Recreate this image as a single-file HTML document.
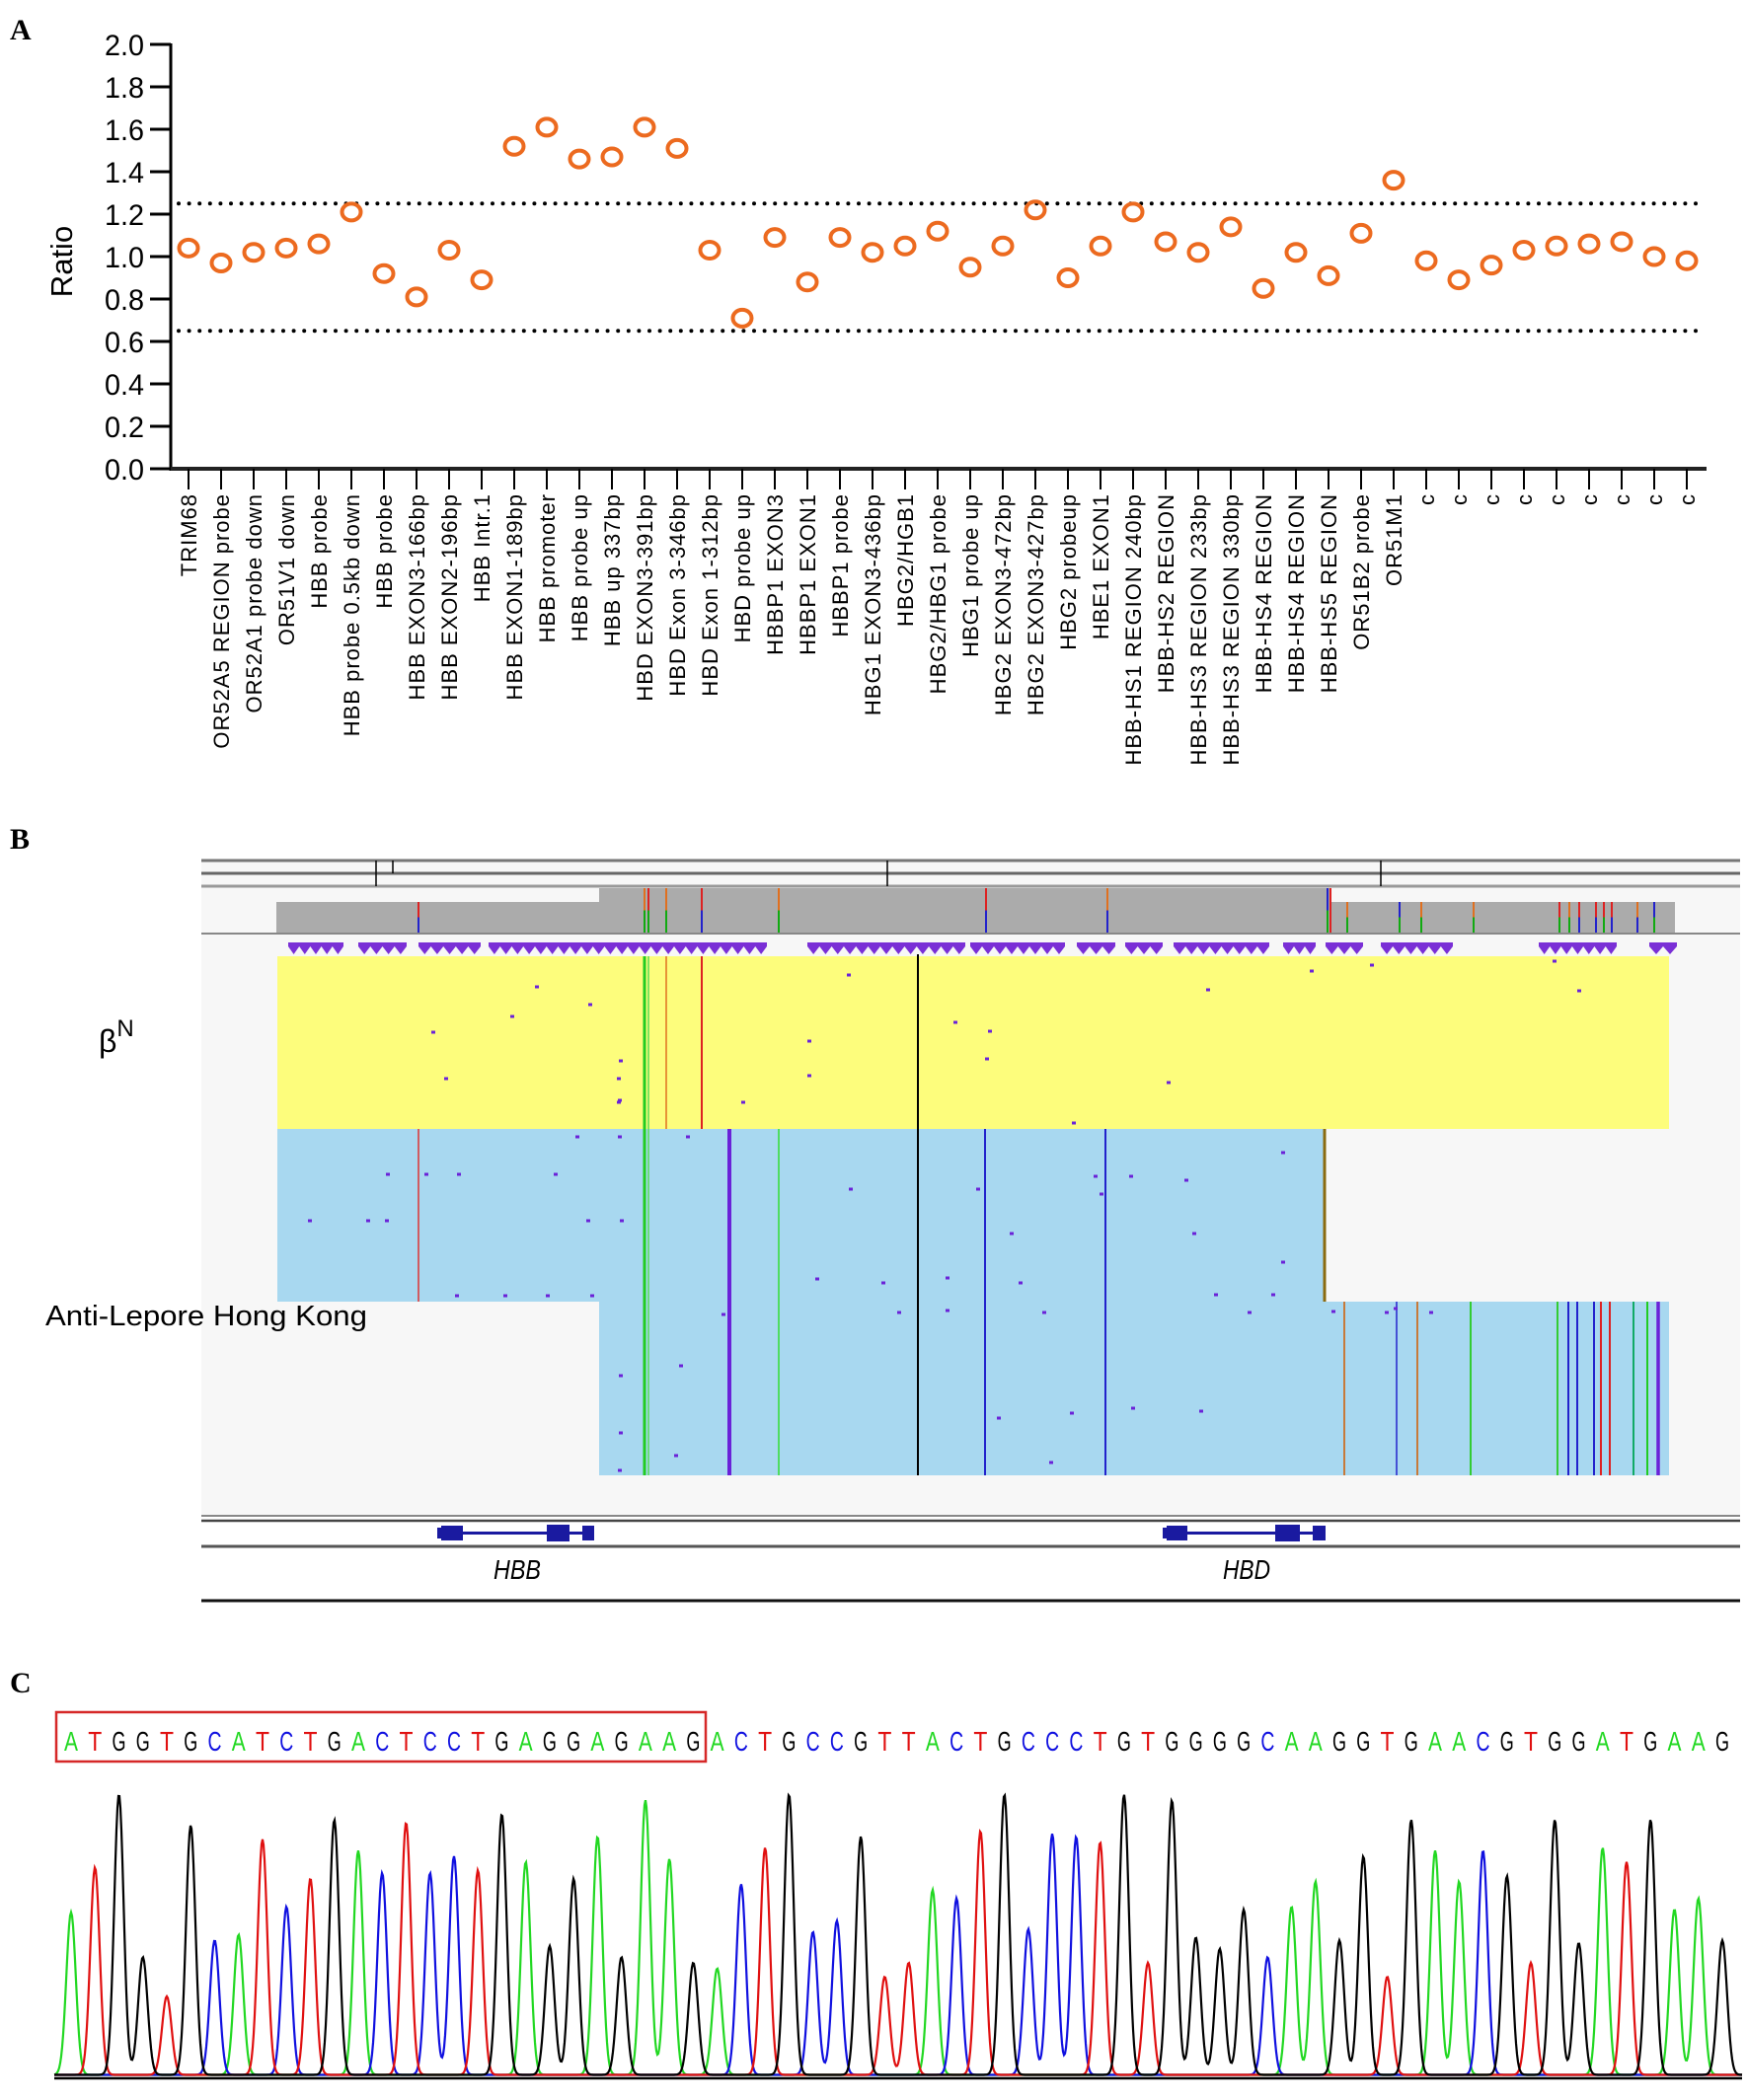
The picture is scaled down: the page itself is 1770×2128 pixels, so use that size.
<!DOCTYPE html>
<html><head><meta charset="utf-8"><style>
html,body{margin:0;padding:0;background:#fff;}
svg{display:block;font-family:"Liberation Sans",sans-serif;}
</style></head><body>
<svg id="fig" width="1770" height="2128" viewBox="0 0 1770 2128" xmlns="http://www.w3.org/2000/svg">
<g id="panelA"></g>
<g id="panelB"></g>
<g id="panelC"></g>
</svg>
<script>
// ---------- Panel A data ----------
const probeLabels = ["TRIM68","OR52A5 REGION probe","OR52A1 probe down","OR51V1 down","HBB probe","HBB probe 0.5kb down","HBB probe","HBB EXON3-166bp","HBB EXON2-196bp","HBB Intr.1","HBB EXON1-189bp","HBB promoter","HBB probe up","HBB up 337bp","HBD EXON3-391bp","HBD Exon 3-346bp","HBD Exon 1-312bp","HBD probe up","HBBP1 EXON3","HBBP1 EXON1","HBBP1 probe","HBG1 EXON3-436bp","HBG2/HGB1","HBG2/HBG1 probe","HBG1 probe up","HBG2 EXON3-472bp","HBG2 EXON3-427bp","HBG2 probeup","HBE1 EXON1","HBB-HS1 REGION 240bp","HBB-HS2 REGION","HBB-HS3 REGION 233bp","HBB-HS3 REGION 330bp","HBB-HS4 REGION","HBB-HS4 REGION","HBB-HS5 REGION","OR51B2 probe","OR51M1","c","c","c","c","c","c","c","c","c"];
const ratioValues = [1.04,0.97,1.02,1.04,1.06,1.21,0.92,0.81,1.03,0.89,1.52,1.61,1.46,1.47,1.61,1.51,1.03,0.71,1.09,0.88,1.09,1.02,1.05,1.12,0.95,1.05,1.22,0.90,1.05,1.21,1.07,1.02,1.14,0.85,1.02,0.91,1.11,1.36,0.98,0.89,0.96,1.03,1.05,1.06,1.07,1.00,0.98];
const yTicks = [0.0,0.2,0.4,0.6,0.8,1.0,1.2,1.4,1.6,1.8,2.0];
const thresholds = [1.25,0.65];

// ---------- Panel C data ----------
const seqBases = "ATGGTGCATCTGACTCCTGAGGAGAAGACTGCCGTTACTGCCCTGTGGGGCAAGGTGAACGTGGATGAAG".split("");
const peakHeights = [0.58,0.74,1.0,0.42,0.28,0.89,0.48,0.50,0.84,0.60,0.70,0.91,0.80,0.72,0.90,0.72,0.78,0.73,0.93,0.76,0.46,0.70,0.85,0.42,0.98,0.77,0.40,0.38,0.68,0.81,1.0,0.51,0.55,0.85,0.35,0.40,0.66,0.63,0.87,1.0,0.52,0.86,0.85,0.83,1.0,0.40,0.98,0.49,0.45,0.59,0.42,0.60,0.69,0.48,0.78,0.35,0.91,0.80,0.69,0.80,0.71,0.40,0.91,0.47,0.81,0.76,0.91,0.59,0.63,0.48];

const NS="http://www.w3.org/2000/svg";
function mk(parent,tag,attrs,text){const e=document.createElementNS(NS,tag);for(const k in attrs)e.setAttribute(k,attrs[k]);if(text!==undefined)e.textContent=text;parent.appendChild(e);return e;}

// ================= Panel A =================
(function(){
const g=document.getElementById('panelA');
const x0=173, xEnd=1729, y0=475, yPerUnit=215, firstX=191, lastX=1709;
const yS=v=>y0-v*yPerUnit;
const xS=i=>firstX+i*(lastX-firstX)/(probeLabels.length-1);
let t=mk(g,'text',{x:10,y:40,'font-family':'Liberation Serif, serif','font-weight':'bold','font-size':30},'A');


let ax=mk(g,'line',{x1:x0,y1:yS(2.0)-1,x2:x0,y2:y0+2,stroke:'#000','stroke-width':3});


let xa=mk(g,'line',{x1:x0,y1:y0,x2:xEnd,y2:y0,stroke:'#222','stroke-width':4});


yTicks.forEach(v=>{
  const tk=mk(g,'line',{x1:152,y1:yS(v),x2:x0,y2:yS(v),stroke:'#000','stroke-width':3});
  
  
  const lb=mk(g,'text',{x:146,y:yS(v)+11,'text-anchor':'end','font-size':30,textLength:40,lengthAdjust:'spacingAndGlyphs'},v.toFixed(1));
  
  
});
const yt=mk(g,'text',{x:0,y:0,'font-size':31,'text-anchor':'middle',transform:'translate(73,265) rotate(-90)'},'Ratio');


thresholds.forEach(v=>{
  const l=mk(g,'line',{x1:x0+8,y1:yS(v),x2:1722,y2:yS(v),stroke:'#000','stroke-width':4,'stroke-dasharray':'0 10.6','stroke-linecap':'round'});
  
  
});
probeLabels.forEach((lab,i)=>{
  const x=xS(i);
  const tk=mk(g,'line',{x1:x,y1:y0,x2:x,y2:496,stroke:'#000','stroke-width':2});
  
  
  const lt=mk(g,'text',{x:0,y:0,'font-size':22,'letter-spacing':'1.0','text-anchor':'end',transform:`translate(${x+8},500) rotate(-90)`},lab);
  
  
  const c=mk(g,'ellipse',{cx:x,cy:yS(ratioValues[i]),rx:9.5,ry:8.5,fill:'none',stroke:'#ec6a1f','stroke-width':4});
  
  
});
})();

// ================= Panel B =================
(function(){
const g=document.getElementById('panelB');
let t=mk(g,'text',{x:10,y:860,'font-family':'Liberation Serif, serif','font-weight':'bold','font-size':30},'B');


let bg=mk(g,'rect',{x:204,y:870,width:1559,height:665,fill:'#f7f7f7'});


[[872,'#777',3],[885,'#666',3],[898,'#999',3],[946,'#888',2]].forEach(a=>{
  const l=mk(g,'line',{x1:204,y1:a[0],x2:1763,y2:a[0],stroke:a[1],'stroke-width':a[2]});
  
  
});
[[381,872,898],[398,872,885],[899,872,898],[1399,872,898]].forEach(a=>{
  const l=mk(g,'line',{x1:a[0],y1:a[1],x2:a[0],y2:a[2],stroke:'#000','stroke-width':1.5});
  
  
});
const cov=mk(g,'path',{d:'M280,945 V914 H607 V900 H1349 V914 H1697 V945 Z',fill:'#ababab'});


[[424,'#d22','#22c'],[653,'#e07020','#1a1'],[657,'#d22','#1a1'],[675,'#e07020','#1a1'],[711,'#d22','#22c'],[789,'#e07020','#1a1'],[999,'#d22','#22c'],[1122,'#e07020','#22c'],[1345,'#22c','#1a1'],[1348,'#d22','#d22'],[1365,'#e07020','#1a1'],[1418,'#22c','#1a1'],[1440,'#e07020','#1a1'],[1493,'#e07020','#1a1'],[1580,'#d22','#1a1'],[1590,'#e07020','#1a1'],[1600,'#d22','#22c'],[1617,'#d22','#22c'],[1625,'#d22','#1a1'],[1633,'#d22','#22c'],[1659,'#e07020','#22c'],[1676,'#22c','#1a1']].forEach(a=>{
  const top=a[0]<607||a[0]>1349?914:900, mid=(top+945)/2;
  mk(g,'line',{x1:a[0],y1:top,x2:a[0],y2:mid,stroke:a[1],'stroke-width':2,});
  mk(g,'line',{x1:a[0],y1:mid,x2:a[0],y2:945,stroke:a[2],'stroke-width':2,});
});
[[292,348],[363,412],[424,487],[495,777],[818,978],[983,1079],[1091,1130],[1140,1178],[1189,1286],[1300,1333],[1343,1381],[1399,1472],[1559,1638],[1671,1699]].forEach(r=>{
  let d=`M${r[0]},955 H${r[1]} V959 `;
  const n=Math.max(1,Math.round((r[1]-r[0])/12));
  const w=(r[1]-r[0])/n;
  for(let k=n-1;k>=0;k--){d+=`L${r[0]+w*k+w/2},967 L${r[0]+w*k},959 `;}
  d+='Z';
  const p=mk(g,'path',{d:d,fill:'#7a2fd6'});
  
  
});
const yel=mk(g,'rect',{x:281,y:969,width:1410,height:175,fill:'#fdfd7c'});


const bl1=mk(g,'rect',{x:281,y:1144,width:1062,height:175,fill:'#a8d8f0'});


const bl2=mk(g,'rect',{x:607,y:1319,width:1084,height:176,fill:'#a8d8f0'});


[[653,969,1495,'#2c2',3],[657,969,1495,'#5d5',1.5],[675,969,1144,'#e07020',1.5],[711,969,1144,'#d22',2],[930,967,1495,'#000',2],[739,1144,1495,'#6a22d8',4],[789,1144,1495,'#3d3',1.5],[998,1144,1495,'#22c',2],[1120,1144,1495,'#22c',2],[424,1144,1319,'#d33',1.5],[1342,1144,1319,'#8a6a10',3],[1362,1319,1495,'#c77a3a',2],[1415,1319,1495,'#22c',1.5],[1436,1319,1495,'#c77a3a',2],[1490,1319,1495,'#3c3',2],[1578,1319,1495,'#3c3',2],[1589,1319,1495,'#22c',2],[1598,1319,1495,'#22c',2],[1615,1319,1495,'#22c',2],[1622,1319,1495,'#d22',2],[1631,1319,1495,'#d22',2],[1655,1319,1495,'#1a6',2],[1669,1319,1495,'#2c2',2],[1680,1319,1495,'#6a22d8',3.5]].forEach(a=>{
  const l=mk(g,'line',{x1:a[0],y1:a[1],x2:a[0],y2:a[2],stroke:a[3],'stroke-width':a[4]});
  
  
});
[[544,1000],[598,1018],[519,1030],[439,1046],[629,1075],[627,1093],[452,1093],[820,1055],[820,1090],[628,1115],[627,1117],[753,1117],[860,988],[968,1036],[1003,1045],[1000,1073],[1224,1003],[1390,978],[1184,1097],[1088,1138],[1329,984],[1575,974],[1600,1004],[585,1152],[628,1152],[697,1152],[393,1190],[432,1190],[465,1190],[563,1190],[1110,1192],[1146,1192],[1300,1168],[314,1237],[373,1237],[392,1237],[596,1237],[630,1237],[1202,1196],[862,1205],[991,1205],[1116,1210],[1025,1250],[1210,1250],[1300,1279],[463,1313],[512,1313],[555,1313],[600,1313],[828,1296],[895,1300],[960,1295],[1034,1300],[1290,1312],[1232,1312],[911,1330],[960,1328],[1058,1330],[1266,1330],[1351,1329],[1405,1330],[1450,1330],[1414,1326],[733,1332],[629,1394],[690,1384],[1012,1437],[1086,1432],[1148,1427],[1217,1430],[629,1452],[685,1475],[1065,1482],[628,1490]].forEach(a=>{
  const r=mk(g,'rect',{x:a[0]-2,y:a[1]-1.5,width:4,height:3,fill:'#6a22d8'});
  
  
});
const bn=mk(g,'text',{x:100,y:1066,'font-size':32},'β');


mk(bn,'tspan',{dy:-16,'font-size':24},'N');
const al=mk(g,'text',{x:46,y:1343,'font-size':29,textLength:326,lengthAdjust:'spacingAndGlyphs'},'Anti-Lepore Hong Kong');


[[1536,'#888',2],[1541,'#444',2.5],[1567,'#555',3],[1622,'#111',3]].forEach(a=>{
  const l=mk(g,'line',{x1:204,y1:a[0],x2:1763,y2:a[0],stroke:a[1],'stroke-width':a[2]});
  
  
});
[[443,469,554,577,590,602,'HBB',524],[1178,1203,1292,1317,1330,1343,'HBD',1263]].forEach(a=>{
  const gg=mk(g,'g',{fill:'#1a1aa0'});
  
  
  mk(gg,'rect',{x:a[0],y:1552,width:a[5]-a[0],height:3});
  mk(gg,'rect',{x:a[0],y:1548,width:4,height:11});
  mk(gg,'rect',{x:a[0]+4,y:1546,width:a[1]-a[0]-4,height:15});
  mk(gg,'rect',{x:a[2],y:1545,width:a[3]-a[2],height:17});
  mk(gg,'rect',{x:a[4],y:1546,width:a[5]-a[4],height:15});
  const tl=mk(g,'text',{x:a[7],y:1600,'font-size':28,'font-style':'italic','text-anchor':'middle',textLength:48,lengthAdjust:'spacingAndGlyphs'},a[6]);
  
  
});
})();

// ================= Panel C =================
(function(){
const g=document.getElementById('panelC');
let t=mk(g,'text',{x:10,y:1715,'font-family':'Liberation Serif, serif','font-weight':'bold','font-size':30},'C');


const colors={A:'#22d822',T:'#e01010',G:'#000000',C:'#1010e0'};
const firstX=72, lastX=1745, base=2104, hMax=284;
const xS=i=>firstX+i*(lastX-firstX)/(seqBases.length-1);
const yS=h=>base-h*hMax;
const box=mk(g,'rect',{x:57,y:1735,width:658,height:50,fill:'none',stroke:'#d62828','stroke-width':2.5});


seqBases.forEach((b,i)=>{
  const tx=mk(g,'text',{x:xS(i),y:1774,'font-size':28,'text-anchor':'middle',fill:colors[b],textLength:14,lengthAdjust:'spacingAndGlyphs'},b);
  
  
});
const sigma=4.8;
['A','C','T','G'].forEach(b=>{
  let d='';
  for(let x=55;x<=1765;x+=1){
    let h=0;
    seqBases.forEach((s,i)=>{if(s===b){const dx=x-xS(i);h+=peakHeights[i]*Math.exp(-dx*dx/(2*sigma*sigma));}});
    d+=(x===55?'M':'L')+x+','+(yS(h)-1.5).toFixed(1);
  }
  const p=mk(g,'path',{d:d,fill:'none',stroke:colors[b],'stroke-width':2.2});
  
  
});
const bl=mk(g,'line',{x1:55,y1:2106,x2:1765,y2:2106,stroke:'#000','stroke-width':2.5});


})();
</script>
</body></html>
